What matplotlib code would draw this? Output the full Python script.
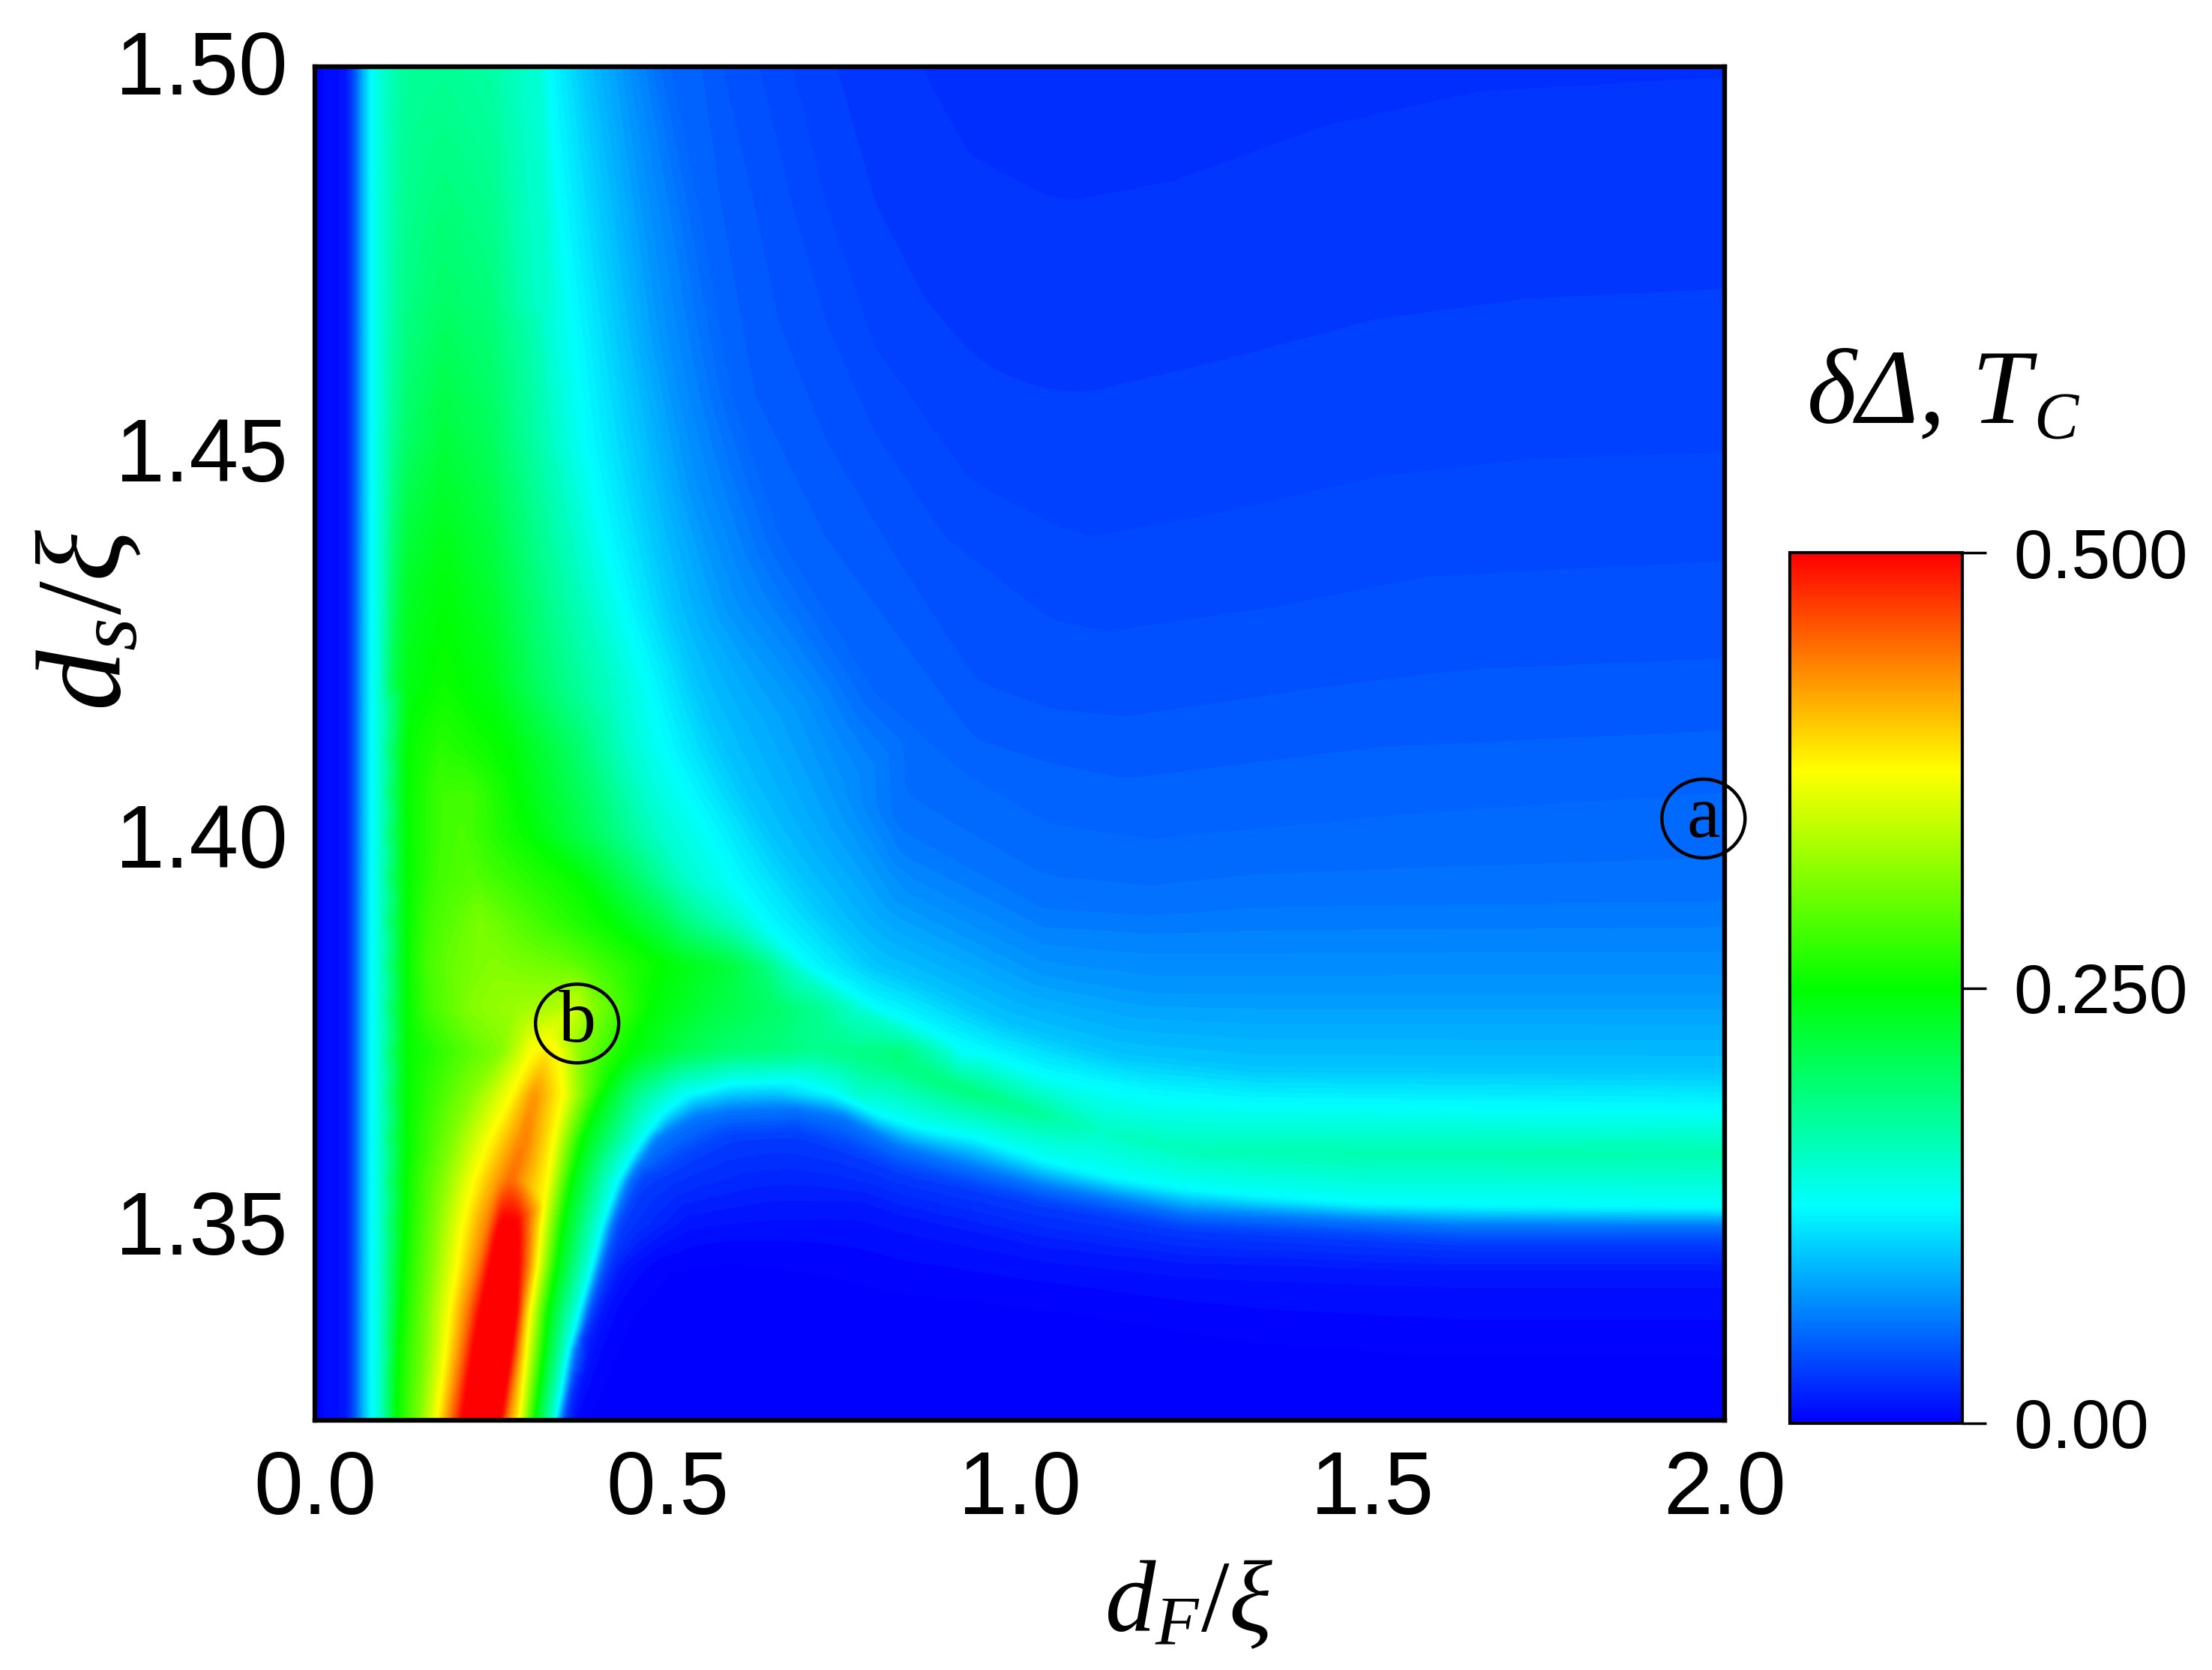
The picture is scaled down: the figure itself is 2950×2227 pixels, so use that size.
import numpy as np
import matplotlib
matplotlib.use("Agg")
import matplotlib.pyplot as plt
from matplotlib.colors import LinearSegmentedColormap, Normalize
from matplotlib.cm import ScalarMappable
from matplotlib.patches import Ellipse
from matplotlib.transforms import ScaledTranslation
from matplotlib.tri import Triangulation, LinearTriInterpolator

plt.rcParams['font.family'] = ['Liberation Sans', 'DejaVu Sans']
plt.rcParams['mathtext.fontset'] = 'custom'
plt.rcParams['mathtext.rm'] = 'Liberation Serif'
plt.rcParams['mathtext.it'] = 'Liberation Serif:italic'
plt.rcParams['mathtext.bf'] = 'Liberation Serif:bold'

# values: fixed columns on the left
left_x = [0.0, 0.045, 0.055, 0.068, 0.0795, 0.09]
left_z = [0.002, 0.01, 0.035, 0.085, 0.125, 0.14]

# upper left block, one row per ds value
upper_y = [1.5, 1.47, 1.452, 1.433, 1.42]
upper_x = [0.112, 0.131, 0.182, 0.25, 0.32]
upper_z = [[0.165, 0.175, 0.178, 0.17, 0.146],
           [0.17, 0.185, 0.2, 0.19, 0.157],
           [0.18, 0.2, 0.22, 0.205, 0.165],
           [0.2, 0.23, 0.245, 0.225, 0.186],
           [0.215, 0.24, 0.255, 0.24, 0.2]]

# rows across the red ridge and the hump
row_y = [1.325, 1.3338, 1.3393, 1.3449, 1.3505, 1.356, 1.3616, 1.3672,
         1.3727, 1.3783, 1.3838, 1.3894, 1.395, 1.4005, 1.4061, 1.4117]
row_x = [
    [.09, .105, .116, .150, .174, .192, .211, .263, .272, .290, .311, .342, .354, .376],
    [.09, .105, .118, .159, .186, .208, .226, .278, .287, .299, .324, .360, .369, .388, .418],
    [.09, .105, .122, .162, .192, .217, .238, .287, .293, .305, .330, .376, .385, .394, .409, .443],
    [.09, .105, .125, .168, .202, .232, .250, .287, .302, .315, .342, .394, .403, .415, .437, .498],
    [.09, .105, .128, .174, .211, .247, .263, .287, .305, .321, .351, .409, .421, .434, .528],
    [.09, .105, .128, .183, .226, .278, .296, .330, .363, .428, .443, .467],
    [.09, .105, .131, .199, .250, .299, .339, .379, .467, .485, .589],
    [.09, .105, .131, .223, .281, .311, .351, .406, .449, .525, .589, .650, .736, .773],
    [.09, .105, .131, .266, .308, .330, .345, .376, .443, .528, .589, .650, .711, .834, .895, .919],
    [.09, .105, .131, .162, .223, .345, .369, .394, .437, .473, .559, .650, .711, .766, .797],
    [.09, .105, .131, .156, .192, .253, .357, .406, .492, .589, .638, .675, .699, .800],
    [.09, .105, .131, .162, .235, .321, .418, .498, .522, .602, .638, .742],
    [.09, .105, .131, .174, .223, .296, .376, .455, .528, .595, .693],
    [.09, .105, .131, .180, .211, .302, .406, .492, .565, .650],
    [.09, .105, .131, .180, .223, .284, .388, .467, .528, .614],
    [.09, .105, .131, .180, .223, .272, .369, .443, .498, .583],
]
row_z = [
    [.14, .19, .25, .315, .375, .44, .51, .51, .44, .375, .25, .125, .03, 0],
    [.14, .19, .25, .315, .375, .44, .51, .51, .44, .375, .25, .125, .03, .01, 0],
    [.14, .19, .25, .315, .375, .44, .51, .51, .44, .375, .25, .125, .06, .03, .01, 0],
    [.14, .19, .25, .315, .375, .44, .51, .51, .44, .375, .25, .125, .06, .03, .01, 0],
    [.14, .19, .25, .315, .375, .44, .505, .505, .44, .375, .25, .125, .06, .03, .01],
    [.14, .19, .25, .315, .375, .45, .42, .375, .25, .125, .06, .03],
    [.14, .19, .25, .315, .375, .44, .375, .25, .125, .06, .03],
    [.14, .19, .25, .315, .375, .43, .375, .25, .19, .125, .1, .095, .125, .15],
    [.14, .19, .25, .315, .375, .385, .375, .315, .25, .21, .195, .19, .18, .19, .15, .125],
    [.14, .19, .25, .28, .315, .335, .35, .315, .28, .25, .22, .2, .18, .15, .125],
    [.14, .19, .25, .28, .30, .315, .30, .28, .25, .22, .19, .15, .125, .095],
    [.14, .19, .25, .28, .31, .28, .25, .21, .19, .15, .125, .095],
    [.14, .19, .25, .28, .29, .27, .25, .2, .15, .125, .095],
    [.14, .19, .25, .28, .285, .25, .2, .15, .125, .095],
    [.14, .19, .25, .28, .28, .25, .2, .15, .125, .095],
    [.14, .19, .25, .27, .26, .25, .2, .15, .125, .095],
]

# traced lines of equal value, (dF, ds)
green_left = [(.116, 1.325), (.118, 1.3338), (.122, 1.3393), (.125, 1.3449), (.128, 1.3505), (.131, 1.3616), (.131, 1.41)]
yg_left = [(.150, 1.325), (.159, 1.3338), (.162, 1.3393), (.168, 1.3449), (.174, 1.3505), (.183, 1.356), (.199, 1.3616),
           (.223, 1.3672), (.266, 1.3727)]
yellow_left = [(.174, 1.325), (.186, 1.3338), (.192, 1.3393), (.202, 1.3449), (.211, 1.3505), (.226, 1.356),
               (.250, 1.3616), (.281, 1.3672), (.308, 1.3727)]
yellow_right = [(.290, 1.325), (.299, 1.3338), (.305, 1.3393), (.315, 1.3449), (.321, 1.3505), (.330, 1.356),
                (.339, 1.3616), (.351, 1.3672), (.345, 1.3727)]
orange_left = [(.192, 1.325), (.208, 1.3338), (.217, 1.3393), (.232, 1.3449), (.247, 1.3505)]
orange_right = [(.272, 1.325), (.287, 1.3338), (.293, 1.3393), (.302, 1.3449), (.305, 1.3505)]
red_left = [(.211, 1.325), (.226, 1.3338), (.238, 1.3393), (.250, 1.3449), (.263, 1.3505)]
red_right = [(.263, 1.325), (.278, 1.3338), (.287, 1.3393), (.287, 1.3505)]
green_right = [(.311, 1.325), (.324, 1.3338), (.330, 1.3393), (.342, 1.3449), (.351, 1.3505), (.363, 1.356),
               (.379, 1.3616), (.406, 1.3672), (.443, 1.3727), (.473, 1.3783), (.492, 1.3838), (.418, 1.3894),
               (.376, 1.395), (.302, 1.4005), (.284, 1.4061), (.272, 1.4117)]
green_15 = [(.30, 1.5), (.318, 1.47), (.345, 1.451), (.386, 1.433), (.426, 1.4205), (.443, 1.4117), (.467, 1.4061),
            (.492, 1.4005), (.528, 1.395), (.602, 1.3894), (.675, 1.3838), (.766, 1.3783), (.895, 1.3727)]
cyan_upper = [(.3315, 1.5), (.3417, 1.4885), (.3552, 1.4762), (.3722, 1.4638), (.3858, 1.4514), (.413, 1.439),
              (.44, 1.4298), (.474, 1.4205), (.498, 1.4117), (.528, 1.4061), (.565, 1.4005), (.595, 1.395),
              (.638, 1.3894), (.699, 1.3838), (.797, 1.3783), (.83, 1.3772), (.906, 1.3739), (1.033, 1.3697),
              (1.186, 1.367), (1.339, 1.366), (1.628, 1.3656), (2.0, 1.3652)]
cyan_lower = [(.342, 1.325), (.360, 1.3338), (.376, 1.3393), (.394, 1.3449), (.409, 1.3505), (.426, 1.3548),
              (.445, 1.3585), (.467, 1.3616), (.495, 1.3648), (.525, 1.3668), (.589, 1.3685), (.681, 1.3688),
              (.736, 1.3672), (.803, 1.3644), (.864, 1.3627), (.936, 1.3616), (1.033, 1.3586), (1.135, 1.3563),
              (1.237, 1.3549), (1.339, 1.354), (1.491, 1.353), (1.628, 1.3528), (2.0, 1.3525)]
blue_095 = [(.3858, 1.5), (.413, 1.482), (.44, 1.4638), (.475, 1.4452), (.51, 1.4298), (.545, 1.42), (.583, 1.4117),
            (.614, 1.4061), (.650, 1.4005), (.693, 1.395), (.742, 1.3894), (.80, 1.3838), (.83, 1.383), (.982, 1.3765),
            (1.135, 1.3725), (1.339, 1.3707), (2.0, 1.3705)]
blue_073 = [(.44, 1.5), (.467, 1.482), (.494, 1.4638), (.535, 1.4452), (.589, 1.4298), (.691, 1.4174),
            (.76, 1.4025), (.83, 1.3925), (1.033, 1.3832), (1.186, 1.381), (2.0, 1.381)]
blue_064 = [(.83, 1.3971), (1.033, 1.3878), (1.186, 1.387), (2.0, 1.3875)]
blue_056 = [(.83, 1.403), (1.033, 1.3925), (1.186, 1.3915), (1.339, 1.393), (2.0, 1.394)]
blue_050 = [(.501, 1.5), (.542, 1.482), (.589, 1.4576), (.657, 1.439), (.793, 1.4187), (.928, 1.4081),
            (1.042, 1.402), (1.185, 1.4), (1.577, 1.4035), (2.0, 1.4061)]
blue_046 = [(.549, 1.5), (.576, 1.482), (.623, 1.4576), (.725, 1.439), (.861, 1.4224), (.936, 1.413),
            (1.042, 1.41), (1.15, 1.408), (1.506, 1.412), (2.0, 1.4142)]
blue_042 = [(.576, 1.5), (.623, 1.482), (.657, 1.4669), (.725, 1.4514), (.827, 1.436), (.936, 1.4204),
            (1.042, 1.4168), (1.15, 1.4158), (1.435, 1.4197), (1.649, 1.422), (2.0, 1.4233)]
blue_038 = [(.63, 1.5), (.677, 1.482), (.725, 1.4669), (.793, 1.4527), (.894, 1.439), (1.042, 1.4286),
            (1.12, 1.4269), (1.364, 1.4301), (1.577, 1.434), (2.0, 1.436)]
blue_033 = [(.677, 1.5), (.725, 1.482), (.793, 1.4638), (.928, 1.4465), (1.042, 1.441), (1.10, 1.4392),
            (1.292, 1.4425), (1.506, 1.447), (1.72, 1.4493), (2.0, 1.4502)]
blue_029 = [(.738, 1.5), (.793, 1.4823), (.861, 1.47), (.942, 1.4613), (1.042, 1.4576), (1.10, 1.4577),
            (1.292, 1.4619), (1.506, 1.4671), (1.72, 1.4697), (2.0, 1.471)]
blue_025 = [(.86, 1.5), (.928, 1.4885), (1.042, 1.483), (1.079, 1.4827), (1.221, 1.4853), (1.435, 1.4925),
            (1.649, 1.497), (2.0, 1.499)]
top_022 = [(.95, 1.5), (2.0, 1.5)]
low_06 = [(.348, 1.325), (.385, 1.3393), (.403, 1.3449), (.421, 1.3505), (.443, 1.356), (.485, 1.3616), (.5405, 1.3644),
          (.589, 1.3652), (.681, 1.3655), (.748, 1.3644), (.83, 1.3605), (1.033, 1.3554), (1.237, 1.3519), (1.628, 1.3503),
          (2.0, 1.3503)]
low_03 = [(.354, 1.325), (.369, 1.3338), (.394, 1.3393), (.415, 1.3449), (.434, 1.3505), (.467, 1.356), (.498, 1.3571),
          (.589, 1.3616), (.681, 1.3621), (.754, 1.36), (.83, 1.3572), (1.033, 1.353), (1.237, 1.3498), (1.628, 1.3479),
          (2.0, 1.3479)]
low_01 = [(.365, 1.325), (.388, 1.3338), (.409, 1.3393), (.437, 1.3449), (.528, 1.3505), (.65, 1.3521), (.7725, 1.3525),
          (.83, 1.3507), (1.033, 1.3466), (1.237, 1.3447), (1.628, 1.3438), (2.0, 1.3438)]
low_00 = [(.376, 1.325), (.418, 1.3338), (.443, 1.3393), (.498, 1.3449), (.589, 1.3461), (.711, 1.3449), (.83, 1.3424),
          (1.058, 1.34), (1.339, 1.3359), (1.628, 1.334), (2.0, 1.334)]
bottom_00 = [(.376, 1.325), (2.0, 1.325)]
right_00 = [(2.0, 1.325), (2.0, 1.334)]

# along the top of the ridge and the middle of the band
ridge_x = [.278, .299, .311, .330, .345]
ridge_y = [1.356, 1.3616, 1.3672, 1.3727, 1.3783]
ridge_z = [.45, .44, .43, .385, .335]
band_x = [.711, .80, .864, .93, 1.033, 1.11, 1.237, 1.339, 1.5, 1.75, 2.0]
band_y = [1.3727, 1.3715, 1.3697, 1.3675, 1.3646, 1.3625, 1.36, 1.3597, 1.3595, 1.3595, 1.3595]
band_z = [.18, .185, .19, .19, .176, .155, .16, .163, .165, .165, .165]

traced = [(.25, green_left), (.315, yg_left), (.375, yellow_left), (.375, yellow_right), (.44, orange_left),
          (.44, orange_right), (.51, red_left), (.51, red_right), (.25, green_right),
          (.15, green_15), (.125, cyan_upper), (.125, cyan_lower), (.095, blue_095), (.073, blue_073),
          (.064, blue_064), (.056, blue_056), (.05, blue_050), (.0458, blue_046), (.0417, blue_042),
          (.0375, blue_038), (.0333, blue_033), (.0292, blue_029), (.025, blue_025), (.022, top_022),
          (.06, low_06), (.03, low_03), (.01, low_01), (0.0, low_00), (0.0, bottom_00), (0.0, right_00)]

x_ticks = [0.0, 0.5, 1.0, 1.5, 2.0]
x_tick_labels = ['0.0', '0.5', '1.0', '1.5', '2.0']
y_ticks = [1.35, 1.40, 1.45, 1.50]
y_tick_labels = ['1.35', '1.40', '1.45', '1.50']
bar_ticks = [0.0, 0.25, 0.5]
bar_tick_labels = ['0.00', '0.250', '0.500']


def add_line(xs, ys, zs, px, py, pz, step=14):
    # put mesh nodes along a read line so the triangulation follows it
    for i in range(len(xs) - 1):
        dist = np.hypot((xs[i + 1] - xs[i]) * 940, (ys[i + 1] - ys[i]) * 10314)
        n = max(int(dist / step), 1)
        t = np.arange(n) / n
        px.extend(xs[i] + t * (xs[i + 1] - xs[i]))
        py.extend(ys[i] + t * (ys[i + 1] - ys[i]))
        pz.extend(zs[i] + t * (zs[i + 1] - zs[i]))
    px.append(xs[-1]); py.append(ys[-1]); pz.append(zs[-1])


px, py, pz = [], [], []
for x, z in zip(left_x, left_z):
    add_line([x, x], [1.325, 1.5], [z, z], px, py, pz)
for j, x in enumerate(upper_x):
    add_line([x] * len(upper_y), upper_y, [r[j] for r in upper_z], px, py, pz)
for y, xs, zs in zip(row_y, row_x, row_z):
    add_line(xs, [y] * len(xs), zs, px, py, pz)
for z, line in traced:
    xs = [p[0] for p in line]
    ys = [p[1] for p in line]
    add_line(xs, ys, [z] * len(line), px, py, pz)
add_line(ridge_x, ridge_y, ridge_z, px, py, pz)
add_line(band_x, band_y, band_z, px, py, pz)

pts, idx = np.unique(np.round(np.column_stack([px, py]), 5), axis=0, return_index=True)
px, py = pts[:, 0], pts[:, 1]
pz = np.array(pz)[idx]

# triangulate in picture proportions, not in data units
tri = Triangulation(px, py, Triangulation(px * 940, py * 10314).triangles)
gx = np.linspace(0, 2, 1000)
gy = np.linspace(1.325, 1.5, 960)
GX, GY = np.meshgrid(gx, gy)
field = np.ma.filled(LinearTriInterpolator(tri, pz)(GX, GY), 0.0)

# soften the corners of the read lines
kernel = np.ones(5) / 5
for axis in (0, 1):
    for _ in range(2):
        pad = np.pad(field, [(2, 2) if a == axis else (0, 0) for a in (0, 1)], mode='edge')
        field = np.apply_along_axis(lambda v: np.convolve(v, kernel, mode='valid'), axis, pad)

W, H = 2950, 2227
fig = plt.figure(figsize=(W / 100, H / 100), dpi=100)
ax = fig.add_axes([420 / W, 1 - 1894 / H, 1880 / W, 1805 / H])

cmap = LinearSegmentedColormap.from_list('rainbow5', ['#0000ff', '#00ffff', '#00ff00', '#ffff00', '#ff0000'], N=512)
norm = Normalize(0, 0.5)
levels = np.linspace(0, 0.5, 121)
ax.contourf(gx, gy, field, levels=levels, cmap=cmap, norm=norm, extend='both')

ax.set_xlim(0, 2)
ax.set_ylim(1.325, 1.5)
ax.set_xticks(x_ticks)
ax.set_xticklabels(x_tick_labels)
ax.set_yticks(y_ticks)
ax.set_yticklabels(y_tick_labels)
ax.tick_params(axis='x', length=0, labelsize=85, pad=28)
ax.tick_params(axis='y', length=0, labelsize=85, pad=26)
up = ScaledTranslation(0, 6 / 100, fig.dpi_scale_trans)
for lab in ax.get_yticklabels():
    lab.set_transform(lab.get_transform() + up)
for s in ax.spines.values():
    s.set_linewidth(4.6)

# marks a and b
for cx, cy, letter in [(1.970, 1.4028, 'a'), (0.372, 1.3763, 'b')]:
    ax.add_patch(Ellipse((cx, cy), 0.118, 0.01018, fill=False, ec='k', lw=3.2, clip_on=False, zorder=5))
    ax.text(cx, cy, letter, family='Liberation Serif', fontsize=72, ha='center', va='center', zorder=6)

fig.text(1586 / W, 1 - 2140 / H, r'$d_{F}/\xi$', fontsize=97, ha='center', va='center')
fig.text(118 / W, 1 - 826 / H, r'$d_{s}/\xi$', fontsize=116, ha='center', va='center', rotation=90)

# colour bar title in pieces, the delta has to be italic
fig.text(2410 / W, 1 - 563 / H, '\u03b4\u0394, T', family='Liberation Serif', style='italic', fontsize=102,
         ha='left', va='baseline')
fig.text(2712 / W, 1 - 584 / H, 'C', family='Liberation Serif', style='italic', fontsize=64, ha='left', va='baseline')

# colour bar
cax = fig.add_axes([2387 / W, 1 - 1898 / H, 230 / W, 1161 / H])
cb = fig.colorbar(ScalarMappable(norm=norm, cmap=cmap), cax=cax, ticks=bar_ticks)
cb.ax.set_yticklabels(bar_tick_labels)
cb.ax.tick_params(length=23, width=2.5, labelsize=67, pad=26)
cb.outline.set_linewidth(3)

fig.savefig('out.png', dpi=100)
